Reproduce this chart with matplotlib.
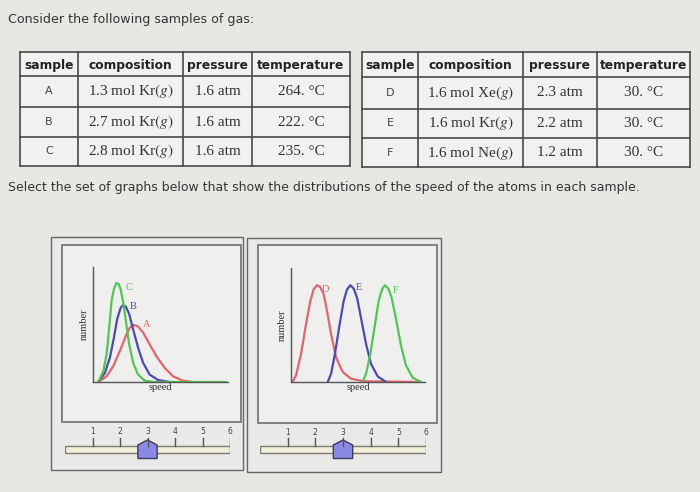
import matplotlib
matplotlib.use("Agg")
import matplotlib.pyplot as plt
from matplotlib.patches import Rectangle, Polygon

plt.rcParams["mathtext.fontset"] = "stix"

# Table data
headers = ["sample", "composition", "pressure", "temperature"]
samples_1 = ["A", "B", "C"]
comp_1 = [r"1.3 mol Kr$(g)$", r"2.7 mol Kr$(g)$", r"2.8 mol Kr$(g)$"]
press_1 = ["1.6 atm", "1.6 atm", "1.6 atm"]
temp_1 = ["264. °C", "222. °C", "235. °C"]

samples_2 = ["D", "E", "F"]
comp_2 = [r"1.6 mol Xe$(g)$", r"1.6 mol Kr$(g)$", r"1.6 mol Ne$(g)$"]
press_2 = ["2.3 atm", "2.2 atm", "1.2 atm"]
temp_2 = ["30. °C", "30. °C", "30. °C"]

# Speed distributions (arbitrary units, 0-10)
speed_A = [0.39, 1.01, 1.50, 1.99, 2.43, 2.73, 3.02, 3.34, 3.71, 4.20, 4.69, 5.31, 5.92, 6.66, 7.40]
number_A = [0, 0.50, 1.38, 2.69, 4.01, 4.74, 4.97, 4.82, 4.30, 3.27, 2.25, 1.23, 0.50, 0.12, 0]
speed_B = [0.39, 0.88, 1.25, 1.55, 1.79, 2.04, 2.24, 2.43, 2.68, 2.97, 3.34, 3.71, 4.20, 4.82, 5.68]
number_B = [0, 0.79, 2.11, 3.86, 5.47, 6.43, 6.70, 6.55, 5.91, 4.59, 2.98, 1.67, 0.64, 0.18, 0]
speed_C = [0.39, 0.76, 1.01, 1.20, 1.38, 1.55, 1.74, 1.89, 2.04, 2.24, 2.43, 2.68, 2.97,
           3.34, 3.83, 4.45, 9.88]
number_C = [0, 0.94, 2.40, 4.74, 7.08, 8.10, 8.60, 8.54, 8.10, 6.93, 5.32, 3.27, 1.67,
            0.64, 0.12, 0, 0]

speed_D = [0.12, 0.37, 0.75, 1.12, 1.44, 1.69, 1.94, 2.19, 2.44, 2.69, 2.99, 3.36, 3.86,
           4.48, 5.47, 9.70]
number_D = [0, 0.58, 2.46, 5.07, 7.10, 8.12, 8.49, 8.32, 7.68, 6.23, 4.20, 2.17, 0.87,
            0.29, 0.06, 0]
speed_E = [2.74, 2.99, 3.28, 3.61, 3.93, 4.18, 4.43, 4.68, 4.93, 5.22, 5.60, 5.97, 6.47, 7.09]
number_E = [0, 0.72, 2.46, 4.93, 7.10, 8.12, 8.49, 8.20, 7.39, 5.65, 3.33, 1.59, 0.49, 0]
speed_F = [5.35, 5.60, 5.92, 6.27, 6.54, 6.79, 7.01, 7.26, 7.51, 7.84, 8.21, 8.58, 9.08, 9.70]
number_F = [0, 0.72, 2.46, 5.07, 7.10, 8.12, 8.49, 8.20, 7.39, 5.51, 3.19, 1.45, 0.38, 0]

slider_ticks = [1, 2, 3, 4, 5, 6]
slider_value = 3

RED, BLUE, GREEN = "#e5646c", "#4a4ab8", "#52c552"
BG = "#e7e7e4"
W, H = 700, 492


def px_axes(x0, y0, x1, y1):
    # pixel box (top-left origin) -> figure fraction rect
    return [x0 / W, 1 - y1 / H, (x1 - x0) / W, (y1 - y0) / H]


fig = plt.figure(figsize=(7, 4.92), dpi=100)
fig.patch.set_facecolor(BG)

bg = fig.add_axes([0, 0, 1, 1])
bg.set_xlim(0, W)
bg.set_ylim(H, 0)
bg.axis("off")

bg.text(8, 20, "Consider the following samples of gas:", fontsize=9.1,
        color="#333333", va="center", ha="left")
bg.text(8, 188, "Select the set of graphs below that show the distributions of the "
        "speed of the atoms in each sample.", fontsize=9, color="#333333",
        va="center", ha="left")


def draw_table(xe, ye, samples, comp, press, temp):
    bg.add_patch(Rectangle((xe[0], ye[0]), xe[-1] - xe[0], ye[-1] - ye[0],
                           facecolor="#f1f1ef", edgecolor="none"))
    for x in xe:
        bg.plot([x, x], [ye[0], ye[-1]], color="#4a4a4a", lw=1.2)
    for y in ye:
        bg.plot([xe[0], xe[-1]], [y, y], color="#4a4a4a", lw=1.2)
    for j, h in enumerate(headers):
        bg.text((xe[j] + xe[j + 1]) / 2, (ye[0] + ye[1]) / 2 + 1, h,
                fontsize=8.8, fontweight="bold", color="#222222",
                ha="center", va="center")
    for i in range(len(samples)):
        yc = (ye[i + 1] + ye[i + 2]) / 2
        bg.text((xe[0] + xe[1]) / 2, yc, samples[i], fontsize=8, color="#444444",
                ha="center", va="center")
        bg.text((xe[1] + xe[2]) / 2, yc, comp[i], fontsize=11, family="Liberation Serif",
                color="#333333", ha="center", va="center")
        bg.text((xe[2] + xe[3]) / 2, yc, press[i], fontsize=11, family="Liberation Serif",
                color="#333333", ha="center", va="center")
        bg.text((xe[3] + xe[4]) / 2, yc, temp[i], fontsize=11, family="Liberation Serif",
                color="#333333", ha="center", va="center")


draw_table([20, 78, 183, 252, 350], [52, 76, 107, 137, 166],
           samples_1, comp_1, press_1, temp_1)
draw_table([362, 418, 523, 597, 690], [52, 77, 109, 138, 167],
           samples_2, comp_2, press_2, temp_2)


def draw_panel(outer, inner, plot_box, slider_box, curves, labels):
    ox0, oy0, ox1, oy1 = outer
    bg.add_patch(Rectangle((ox0, oy0), ox1 - ox0, oy1 - oy0, facecolor="#e9e9e7",
                           edgecolor="#666666", lw=1.0))
    ix0, iy0, ix1, iy1 = inner
    bg.add_patch(Rectangle((ix0, iy0), ix1 - ix0, iy1 - iy0, facecolor="#efefed",
                           edgecolor="#808080", lw=1.4))

    ax = fig.add_axes(px_axes(*plot_box))
    ax.patch.set_alpha(0)
    for (sx, ny, c) in curves:
        ax.plot(sx, ny, color=c, lw=1.6, solid_joinstyle="round", solid_capstyle="round")
    for (sx, ny, t, c) in labels:
        ax.text(sx, ny, t, color=c, fontsize=7.5, family="Liberation Serif",
                ha="center", va="center")
    ax.set_xlim(0, 10)
    ax.set_ylim(0, 10)
    ax.spines["top"].set_visible(False)
    ax.spines["right"].set_visible(False)
    for s in ("left", "bottom"):
        ax.spines[s].set_color("#555555")
        ax.spines[s].set_linewidth(1.0)
    ax.set_xticks([])
    ax.set_yticks([])
    ax.set_xlabel("speed", fontsize=7.5, family="Liberation Serif", color="#333333", labelpad=1)
    ax.set_ylabel("number", fontsize=7.5, family="Liberation Serif", color="#333333", labelpad=3)

    sl = fig.add_axes(px_axes(*slider_box))
    sl.axis("off")
    sl.set_xlim(0, 6)
    y0, y1 = slider_box[1], slider_box[3]
    sl.set_ylim(y1, y0)
    sl.add_patch(Rectangle((0, 446), 6, 6.5, facecolor="#f1efd8", edgecolor="#7a7a72", lw=1.0))
    for t in slider_ticks:
        sl.plot([t, t], [438, 446], color="#555555", lw=1.0)
        sl.text(t, 432, str(t), fontsize=5.5, color="#444444", ha="center", va="center")
    hw = 0.35
    thumb = Polygon([(slider_value - hw, 458.5), (slider_value - hw, 445),
                     (slider_value, 440), (slider_value + hw, 445),
                     (slider_value + hw, 458.5)], closed=True,
                    facecolor="#8a8ae6", edgecolor="#3c3c5a", lw=1.0)
    sl.add_patch(thumb)


draw_panel((51, 237, 243, 470), (62, 245, 241, 422), (93, 267, 228, 382),
           (65, 426, 230, 462),
           [(speed_A, number_A, RED), (speed_B, number_B, BLUE), (speed_C, number_C, GREEN)],
           [(4.0, 4.97, "A", RED), (2.97, 6.58, "B", BLUE), (2.65, 8.25, "C", GREEN)])
draw_panel((247, 238, 441, 472), (258, 245, 437, 423), (291, 268, 425, 382),
           (260, 427, 426, 463),
           [(speed_D, number_D, RED), (speed_E, number_E, BLUE), (speed_F, number_F, GREEN)],
           [(2.54, 8.12, "D", RED), (5.10, 8.26, "E", BLUE), (7.84, 8.03, "F", GREEN)])

fig.savefig("out.png", dpi=100, facecolor=BG)
